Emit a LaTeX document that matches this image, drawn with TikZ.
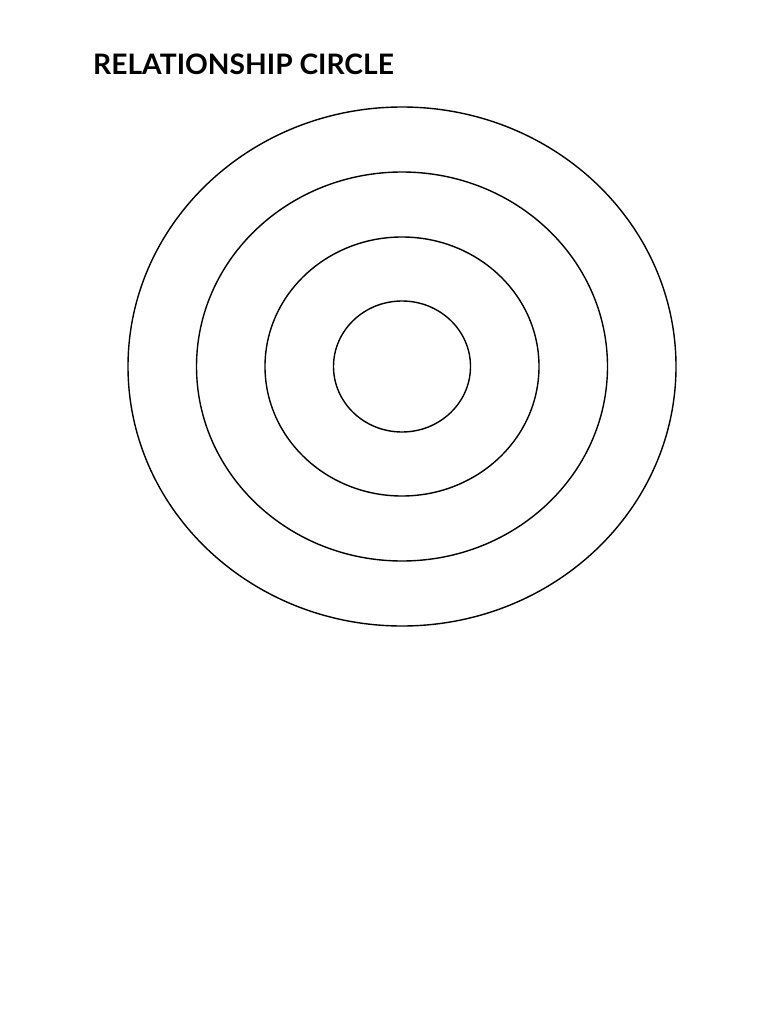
\documentclass[tikz,border=0pt]{standalone}
\usepackage{fontspec}
\setmainfont{Lato}
\begin{document}
\begin{tikzpicture}[x=1pt,y=-1pt,
  ring/.style={draw=black,line width=1.4pt},
  titletext/.style={font=\fontsize{28.2}{33}\selectfont\bfseries,anchor=base west,inner sep=0pt}]
\useasboundingbox (0,0) rectangle (768,1024);
\node[titletext] (title) at (93,74.5) {RELATIONSHIP CIRCLE};
\coordinate (c) at (402,366.5);
\draw[ring] (c) ellipse [x radius=274, y radius=259.5];
\draw[ring] (c) ellipse [x radius=205.5, y radius=194.5];
\draw[ring] (c) ellipse [x radius=137, y radius=129.5];
\draw[ring] (c) ellipse [x radius=68.5, y radius=65.5];
\end{tikzpicture}
\end{document}
